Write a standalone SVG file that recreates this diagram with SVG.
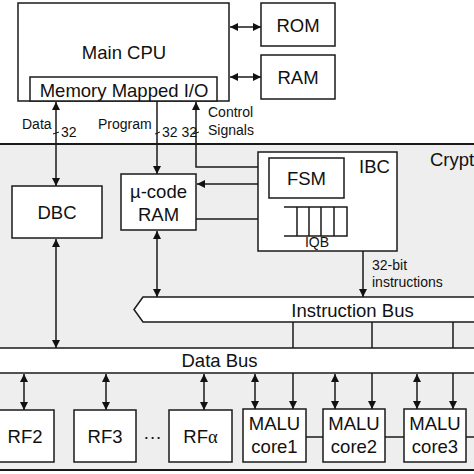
<svg xmlns="http://www.w3.org/2000/svg" width="474" height="474" viewBox="0 0 474 474">
<defs>
<style>
.box{fill:#fff;stroke:#1a1a1a;stroke-width:1.5}
.ln{fill:none;stroke:#1a1a1a;stroke-width:1.5}
.t{font-family:"Liberation Sans",Arial,sans-serif;fill:#111;font-size:18.5px}
.s{font-family:"Liberation Sans",Arial,sans-serif;fill:#111;font-size:14px}
.m{text-anchor:middle}
</style>
<marker id="ah" viewBox="0 0 10 10" refX="10" refY="5" markerWidth="8" markerHeight="8" markerUnits="userSpaceOnUse" orient="auto-start-reverse">
<path d="M0,0 L10,5 L0,10 z" fill="#111"/>
</marker>
</defs>
<rect x="0" y="0" width="474" height="474" fill="#fff"/>
<g id="crypto-region">
<rect x="-2" y="144" width="478" height="326" fill="#eeeeee"/>
<line x1="0" y1="144" x2="474" y2="144" stroke="#1a1a1a" stroke-width="2"/>
<line x1="0" y1="470" x2="474" y2="470" stroke="#1a1a1a" stroke-width="2"/>
<text class="t" x="430" y="166">Crypt</text>
</g>
<g id="connectors">
<line class="ln" x1="56" y1="102" x2="56" y2="186" marker-start="url(#ah)" marker-end="url(#ah)"/>
<line x1="53" y1="134" x2="59" y2="132" stroke="#111" stroke-width="1"/>
<line class="ln" x1="157" y1="101" x2="157" y2="174" marker-end="url(#ah)"/>
<line x1="155" y1="134" x2="160" y2="132" stroke="#111" stroke-width="1"/>
<polyline class="ln" points="196,102 196,167 269,167" marker-start="url(#ah)"/>
<line x1="193" y1="134" x2="199" y2="132" stroke="#111" stroke-width="1"/>
<line class="ln" x1="230" y1="27" x2="261" y2="27" marker-start="url(#ah)" marker-end="url(#ah)"/>
<line class="ln" x1="230" y1="77" x2="261" y2="77" marker-start="url(#ah)" marker-end="url(#ah)"/>
<line class="ln" x1="269" y1="184" x2="197" y2="184" marker-end="url(#ah)"/>
<line class="ln" x1="196" y1="219" x2="283" y2="219" marker-end="url(#ah)"/>
<polyline class="ln" points="347,223 363,223 363,297" marker-end="url(#ah)"/>
<line class="ln" x1="157" y1="231" x2="157" y2="297" marker-start="url(#ah)" marker-end="url(#ah)"/>
<line class="ln" x1="56" y1="239" x2="56" y2="348" marker-start="url(#ah)" marker-end="url(#ah)"/>
<line class="ln" x1="293" y1="322" x2="293" y2="348"/>
<line class="ln" x1="372" y1="322" x2="372" y2="348"/>
<line class="ln" x1="453" y1="322" x2="453" y2="348"/>
<line class="ln" x1="24" y1="374" x2="24" y2="410" marker-start="url(#ah)" marker-end="url(#ah)"/>
<line class="ln" x1="106" y1="374" x2="106" y2="410" marker-start="url(#ah)" marker-end="url(#ah)"/>
<line class="ln" x1="204" y1="374" x2="204" y2="410" marker-start="url(#ah)" marker-end="url(#ah)"/>
<line class="ln" x1="255" y1="374" x2="255" y2="409" marker-start="url(#ah)" marker-end="url(#ah)"/>
<line class="ln" x1="335" y1="374" x2="335" y2="409" marker-start="url(#ah)" marker-end="url(#ah)"/>
<line class="ln" x1="417" y1="374" x2="417" y2="409" marker-start="url(#ah)" marker-end="url(#ah)"/>
<line class="ln" x1="293" y1="373" x2="293" y2="409" marker-end="url(#ah)"/>
<line class="ln" x1="372" y1="373" x2="372" y2="409" marker-end="url(#ah)"/>
<line class="ln" x1="453" y1="373" x2="453" y2="409" marker-end="url(#ah)"/>
<line class="ln" x1="306" y1="437" x2="323" y2="437"/>
<line class="ln" x1="385" y1="437" x2="404" y2="437"/>
<line class="ln" x1="466" y1="437" x2="476" y2="437"/>
</g>
<g id="labels">
<text class="s" x="22" y="129">Data</text>
<text class="s" x="61" y="137">32</text>
<text class="s" x="98" y="129">Program</text>
<text class="s" x="162" y="137">32 32</text>
<text class="s" x="208" y="117">Control</text>
<text class="s" x="208" y="135">Signals</text>
<text class="s" x="372" y="270">32-bit</text>
<text class="s" x="372" y="287">instructions</text>
</g>
<g id="main-cpu">
<rect class="box" x="18" y="3" width="211" height="98"/>
<text class="t m" x="124" y="59">Main CPU</text>
</g>
<g id="memory-mapped-io">
<rect class="box" x="30" y="77" width="187" height="24"/>
<text class="t m" x="124" y="96.5">Memory Mapped I/O</text>
</g>
<g id="rom">
<rect class="box" x="261" y="3" width="74" height="43"/>
<text class="t m" x="298" y="32">ROM</text>
</g>
<g id="ram">
<rect class="box" x="261" y="55" width="74" height="44"/>
<text class="t m" x="298" y="84">RAM</text>
</g>
<g id="dbc">
<rect class="box" x="12" y="186" width="90" height="52"/>
<text class="t m" x="57" y="219">DBC</text>
</g>
<g id="ucode-ram">
<rect class="box" x="121" y="174" width="75" height="56"/>
<text class="t m" x="158.5" y="198">µ-code</text>
<text class="t m" x="158.5" y="221">RAM</text>
</g>
<g id="ibc">
<rect class="box" x="258" y="152" width="139" height="99"/>
<text class="t" x="359" y="173">IBC</text>
</g>
<g id="fsm">
<rect class="box" x="269" y="158" width="75" height="40"/>
<text class="t m" x="306.5" y="185">FSM</text>
</g>
<g id="iqb">
<path class="ln" d="M284,207 H347 V236 H284 M297,207 V236 M309,207 V236 M321,207 V236 M334,207 V236"/>
<text class="s m" x="317" y="247">IQB</text>
</g>
<g id="instruction-bus">
<polygon class="box" points="143,297 134,309.5 143,322 480,322 480,297"/>
<text class="t m" x="352.5" y="317">Instruction Bus</text>
</g>
<g id="data-bus">
<rect class="box" x="-3" y="348" width="480" height="25"/>
<text class="t" x="181.5" y="367">Data Bus</text>
</g>
<g id="rf2">
<rect class="box" x="-2" y="410" width="56" height="52"/>
<text class="t m" x="25" y="443">RF2</text>
</g>
<g id="rf3">
<rect class="box" x="74" y="410" width="62" height="52"/>
<text class="t m" x="105" y="443">RF3</text>
</g>
<text class="t m" x="152.5" y="443">···</text>
<g id="rf-alpha">
<rect class="box" x="169" y="410" width="63" height="52"/>
<text class="t m" x="200.5" y="443">RF<tspan font-family="'Liberation Serif',serif">α</tspan></text>
</g>
<g id="malu-core1">
<rect class="box" x="243" y="409" width="63" height="53"/>
<text class="t m" x="274.5" y="430">MALU</text>
<text class="t m" x="274.5" y="453">core1</text>
</g>
<g id="malu-core2">
<rect class="box" x="323" y="409" width="62" height="53"/>
<text class="t m" x="354" y="430">MALU</text>
<text class="t m" x="354" y="453">core2</text>
</g>
<g id="malu-core3">
<rect class="box" x="404" y="409" width="62" height="53"/>
<text class="t m" x="435" y="430">MALU</text>
<text class="t m" x="435" y="453">core3</text>
</g>
</svg>
